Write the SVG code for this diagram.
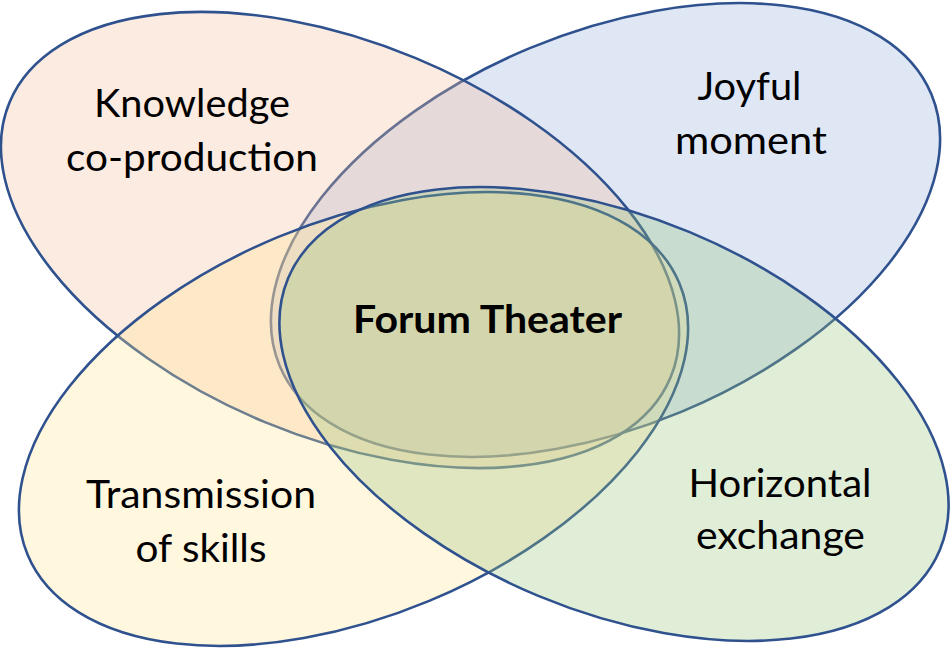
<svg xmlns="http://www.w3.org/2000/svg" width="952" height="649" viewBox="0 0 952 649">
<style>
  .petal { stroke: #2F528F; stroke-width: 2.6; fill-opacity: 0.3; }
  .lbl { font-family: Lato, "Open Sans", "Liberation Sans", sans-serif; font-size: 38px; fill: #000; text-anchor: middle; }
  .ctr { font-family: Lato, "Open Sans", "Liberation Sans", sans-serif; font-size: 39px; font-weight: bold; fill: #000; text-anchor: middle; }
</style>
<rect width="952" height="649" fill="#ffffff"/>
<g id="joyful-moment">
  <ellipse class="petal" cx="0" cy="0" rx="353" ry="197" transform="translate(605.5,230) rotate(-22.6)" fill="#94AFDE"/>
</g>
<g id="knowledge-coproduction">
  <ellipse class="petal" cx="0" cy="0" rx="358" ry="197" transform="translate(340,240) rotate(22.6)" fill="#F5BC98"/>
</g>
<g id="transmission-of-skills">
  <ellipse class="petal" cx="0" cy="0" rx="353" ry="197" transform="translate(353.5,419) rotate(-22.6)" fill="#FFE491"/>
</g>
<g id="horizontal-exchange">
  <ellipse class="petal" cx="0" cy="0" rx="353" ry="197" transform="translate(614,414) rotate(22.6)" fill="#98C37A"/>
</g>
<g id="labels">
  <text class="lbl" x="192" y="117" textLength="196" lengthAdjust="spacingAndGlyphs">Knowledge</text>
  <text class="lbl" x="192" y="170.5" textLength="252" lengthAdjust="spacingAndGlyphs">co-production</text>
  <text class="lbl" x="749.5" y="100" textLength="104" lengthAdjust="spacingAndGlyphs">Joyful</text>
  <text class="lbl" x="751" y="154" textLength="152" lengthAdjust="spacingAndGlyphs">moment</text>
  <text class="lbl" x="201" y="508" textLength="230" lengthAdjust="spacingAndGlyphs">Transmission</text>
  <text class="lbl" x="201" y="561.5" textLength="131" lengthAdjust="spacingAndGlyphs">of skills</text>
  <text class="lbl" x="780" y="496.5" textLength="183" lengthAdjust="spacingAndGlyphs">Horizontal</text>
  <text class="lbl" x="780.5" y="549" textLength="169" lengthAdjust="spacingAndGlyphs">exchange</text>
</g>
<g id="forum-theater">
  <text class="ctr" x="487.5" y="333" textLength="269" lengthAdjust="spacingAndGlyphs">Forum Theater</text>
</g>
<g id="connectors"></g>
</svg>
